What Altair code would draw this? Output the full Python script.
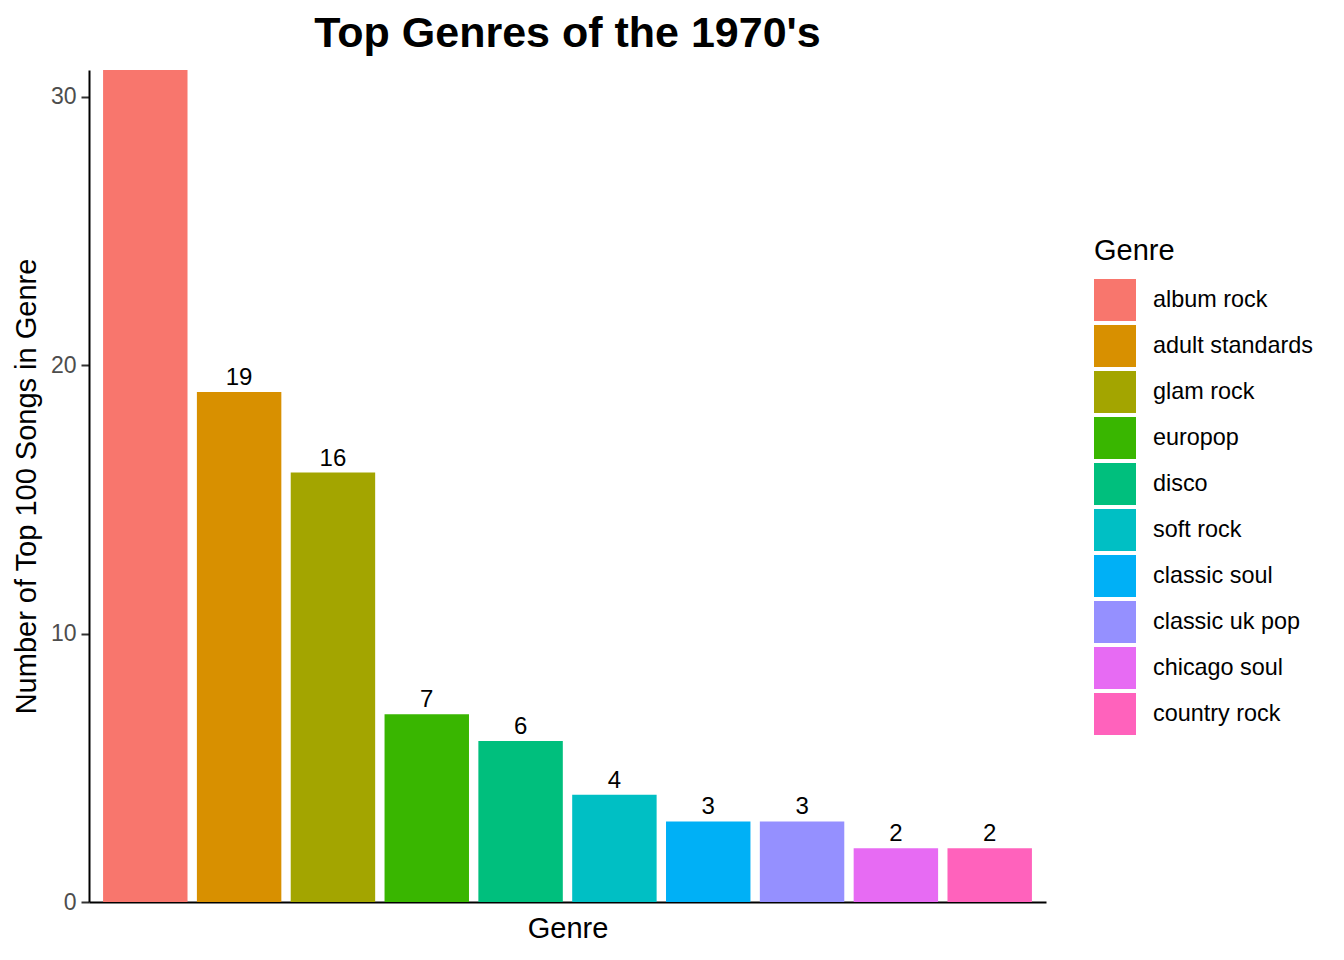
import altair as alt
import pandas as pd

genres = ["album rock", "adult standards", "glam rock", "europop", "disco",
          "soft rock", "classic soul", "classic uk pop", "chicago soul", "country rock"]
counts = [34, 19, 16, 7, 6, 4, 3, 3, 2, 2]
colors = ["#F8766D", "#D89000", "#A3A500", "#39B600", "#00BF7D",
          "#00BFC4", "#00B0F6", "#9590FF", "#E76BF3", "#FF62BC"]

df = pd.DataFrame({"Genre": genres, "Count": counts})

FONT = "Liberation Sans"

x = alt.X("Genre:N", sort=genres,
          scale=alt.Scale(paddingInner=0.1, paddingOuter=0.15),
          axis=alt.Axis(title="Genre", labels=False, ticks=False,
                        domainColor="black", domainWidth=2,
                        titleFontSize=29, titleFontWeight="normal",
                        titleColor="black", titleFont=FONT, titlePadding=12))
y = alt.Y("Count:Q", scale=alt.Scale(domain=[0, 31], nice=False, zero=True),
          axis=alt.Axis(title="Number of Top 100 Songs in Genre", values=[0, 10, 20, 30],
                        grid=False, domainColor="black", domainWidth=2,
                        tickColor="#333333", tickSize=8, tickWidth=2,
                        labelColor="#4d4d4d", labelFontSize=23, labelFont=FONT,
                        labelPadding=5,
                        titleFontSize=29, titleFontWeight="normal", titleColor="black",
                        titleFont=FONT, titlePadding=9))

bars = alt.Chart(df).mark_bar(clip=True).encode(
    x=x, y=y,
    color=alt.Color("Genre:N", sort=genres,
                    scale=alt.Scale(domain=genres, range=colors),
                    legend=alt.Legend(title="Genre", orient="none",
                                      legendX=1005, legendY=167, padding=0,
                                      symbolType="square", symbolSize=1764,
                                      symbolStrokeWidth=0, symbolOpacity=1,
                                      rowPadding=4, labelFontSize=23.4, labelFont=FONT,
                                      labelColor="black", labelOffset=17,
                                      titleFontSize=29, titleFontWeight="normal",
                                      titleFont=FONT, titleColor="black",
                                      titlePadding=13, labelLimit=300))
)

labels = alt.Chart(df).mark_text(clip=True, baseline="alphabetic", dy=-7,
                                 fontSize=24, font=FONT, color="black").encode(
    x=alt.X("Genre:N", sort=genres), y="Count:Q", text="Count:Q"
)

chart = (bars + labels).properties(
    width=957, height=832,
    title=alt.TitleParams("Top Genres of the 1970's", fontSize=43, font=FONT,
                          fontWeight="bold", color="black", anchor="middle", offset=14),
    padding={"left": 89, "top": 70, "right": 298, "bottom": 58},
    autosize=alt.AutoSizeParams(type="none"),
).configure_view(stroke=None)

chart.save("out.html", embed_options={"renderer": "svg", "actions": False})
